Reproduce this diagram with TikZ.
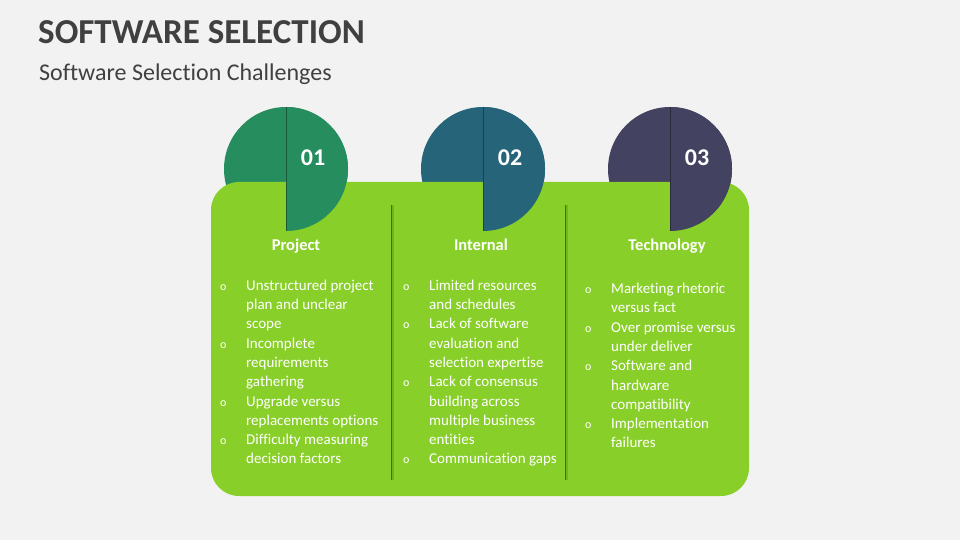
\documentclass[tikz,border=0pt]{standalone}
\usepackage{fontspec}
\setmainfont{Carlito}[Ligatures=NoCommon]
\usepackage{xcolor}
\usetikzlibrary{positioning, calc}
\definecolor{bgGray}{HTML}{F2F2F2}
\definecolor{panelGreen}{RGB}{137,207,41}
\definecolor{circA}{RGB}{38,142,94}
\definecolor{circB}{RGB}{38,101,121}
\definecolor{circC}{RGB}{67,66,96}
\definecolor{titleGray}{HTML}{404040}
\newcommand{\itm}{{\fontsize{12}{12}\selectfont o}}

\begin{document}
\begin{tikzpicture}[x=1pt, y=-1pt,
    heading/.style={anchor=base west, inner sep=0pt, text=titleGray},
    num/.style={anchor=base, inner sep=0pt, text=white, font=\fontsize{24}{24}\bfseries\selectfont},
    colhead/.style={anchor=base, inner sep=0pt, text=white, font=\fontsize{16.5}{16.5}\bfseries\selectfont},
    items/.style={anchor=north west, inner sep=0pt, text=white, font=\fontsize{15}{19.3}\selectfont},
    divider/.style={line width=#1, panelGreen!45!black}]
    \fill[bgGray] (0,0) rectangle (960,540);
    \useasboundingbox (0,0) rectangle (960,540);

    \node[heading, font=\fontsize{35}{35}\bfseries\selectfont] (title) at (38,44) {SOFTWARE SELECTION};
    \node[heading, font=\fontsize{24}{24}\selectfont] (subtitle) at (39,81) {Software Selection Challenges};

    % circles behind the panel
    \foreach \cx/\col in {286/circA, 483/circB, 670/circC}
        \fill[\col] (\cx,169) circle[radius=62];

    \node[fill=panelGreen, rounded corners=28pt, minimum width=538pt, minimum height=314pt,
        inner sep=0pt] (panel) at (480,339) {};

    % dividers
    \foreach \dx in {391, 565} {
        \draw[divider=3pt, opacity=0.25] (\dx+1,205) -- (\dx+1,480);
        \draw[divider=1pt, opacity=0.8] (\dx,205) -- (\dx,480);
    }

    % right halves over the panel
    \foreach \cx/\col/\n in {286/circA/01, 483/circB/02, 670/circC/03} {
        \fill[\col] (\cx,107) arc[start angle=-90, end angle=90, radius=62] -- cycle;
        \draw[\col!65!black, line width=0.8pt] (\cx,107) -- (\cx,231);
        \node[num] (num\n) at (\cx+27,166) {\n};
    }

    \node[colhead] (project) at (296,250) {Project};
    \node[colhead] (internal) at (481,250) {Internal};
    \node[colhead] (technology) at (667,250) {Technology};

    \node[items] (listA) at (220,276.5) {\begin{tabular}{@{}p{26pt}@{}l@{}}
        \itm & Unstructured project\\
             & plan and unclear\\
             & scope\\
        \itm & Incomplete\\
             & requirements\\
             & gathering\\
        \itm & Upgrade versus\\
             & replacements options\\
        \itm & Difficulty measuring\\
             & decision factors
    \end{tabular}};
    \node[items] (listB) at (403,276.5) {\begin{tabular}{@{}p{26pt}@{}l@{}}
        \itm & Limited resources\\
             & and schedules\\
        \itm & Lack of software\\
             & evaluation and\\
             & selection expertise\\
        \itm & Lack of consensus\\
             & building across\\
             & multiple business\\
             & entities\\
        \itm & Communication gaps
    \end{tabular}};
    \node[items] (listC) at (585,279.8) {\begin{tabular}{@{}p{26pt}@{}l@{}}
        \itm & Marketing rhetoric\\
             & versus fact\\
        \itm & Over promise versus\\
             & under deliver\\
        \itm & Software and\\
             & hardware\\
             & compatibility\\
        \itm & Implementation\\
             & failures
    \end{tabular}};
\end{tikzpicture}
\end{document}
